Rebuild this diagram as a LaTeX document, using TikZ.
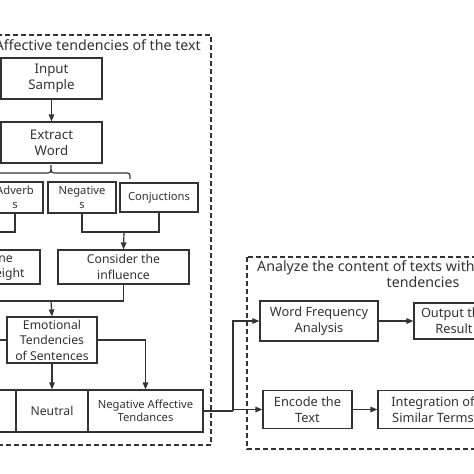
\documentclass[tikz,border=0pt]{standalone}
\usepackage{fontspec}
\setmainfont{Noto Sans}
\usetikzlibrary{arrows.meta}
\definecolor{ink}{HTML}{333333}
\tikzset{
  box/.style={draw=ink, line width=1.2pt, text=ink, align=center, inner sep=0pt,
    font=\fontsize{12.2}{15.5}\selectfont},
  bigbox/.style={box, font=\fontsize{13.3}{16}\selectfont},
  smallbox/.style={box, font=\fontsize{11.2}{13.5}\selectfont},
  rbox/.style={box, font=\fontsize{12.8}{16}\selectfont},
  conn/.style={draw=ink, line width=1.2pt},
  arr/.style={conn, -{Triangle[length=7pt,width=5.5pt]}},
  frame/.style={draw=ink, line width=1.1pt, dash pattern=on 5pt off 3pt},
  ttl/.style={text=ink, inner sep=0pt, font=\fontsize{14.2}{16}\selectfont}
}
\begin{document}
\begin{tikzpicture}[x=1pt,y=-1pt]
\useasboundingbox (0,0) rectangle (474,474);
\clip (0,0) rectangle (474,474);
\fill[white] (0,0) rectangle (474,474);
% frames
\draw[frame] (-8,35) rectangle (211,445);
\draw[frame] (247,257) rectangle (490,449);
\node[ttl, anchor=base east] (t1) at (201,50) {Affective tendencies of the text};
\node[ttl, anchor=base west] (t2a) at (257,271) {Analyze the content of texts with};
\node[ttl, anchor=base] (t2b) at (423,287) {tendencies};
% left boxes
\node[bigbox, minimum width=101pt, minimum height=41pt] (inp) at (51.5,78.5) {Input\\Sample};
\node[bigbox, minimum width=101pt, minimum height=41pt] (ext) at (51.5,142.5) {Extract\\Word};
\node[smallbox, minimum width=56pt, minimum height=31pt] (adv) at (15,197.5) {Adverb\\s};
\node[smallbox, minimum width=68pt, minimum height=31pt] (neg) at (82,197.5) {Negative\\s};
\node[smallbox, minimum width=78pt, minimum height=29pt] (conj) at (159,197.5) {Conjuctions};
\node[box, minimum width=92pt, minimum height=34pt] (wgt) at (-6,267) {Define\\the weight};
\node[box, minimum width=131pt, minimum height=34pt] (cons) at (123.5,267) {Consider the\\influence};
\node[box, minimum width=90pt, minimum height=46pt] (emo) at (52,340) {Emotional\\Tendencies\\of Sentences};
\node[box, minimum width=76pt, minimum height=42pt] (pos) at (-22,411) {Positive};
\node[box, minimum width=72pt, minimum height=42pt] (neu) at (52,411) {Neutral};
\node[smallbox, minimum width=115pt, minimum height=42pt] (nega) at (145.5,411) {Negative Affective\\Tendances};
% right boxes
\node[rbox, minimum width=118pt, minimum height=40pt] (wf) at (319,321) {Word Frequency\\Analysis};
\node[rbox, minimum width=80pt, minimum height=36pt] (out) at (454,321) {Output the\\Result};
\node[rbox, minimum width=89pt, minimum height=38pt] (enc) at (307.5,409.5) {Encode the\\Text};
\node[rbox, minimum width=110pt, minimum height=38pt] (intg) at (433,409.5) {Integration of\\Similar Terms};
% brace under Extract Word
\draw[conn] (130,179) .. controls (130,173) .. (124,173) -- (57,173)
  .. controls (51,173) .. (51,165) .. controls (51,173) .. (45,173) -- (-22,173)
  .. controls (-28,173) .. (-28,179);
% connectors
\draw[arr] (inp) -- (ext);
\coordinate (advend) at (-8,232);
\draw[conn] (adv.south) |- (advend);
\coordinate (nc) at (124,232);
\draw[conn] (neg.south) |- (nc) -| (conj.south);
\draw[arr] (nc) -- (cons.north);
\coordinate (je) at (51,301);
\draw[conn] (wgt.south) |- (je);
\draw[conn] (cons.south) |- (je);
\draw[arr] (je) -- (emo.north);
\coordinate (emol) at (-8,340);
\draw[conn] (emo.west) -- (emol);
\draw[arr] (emo.east) -| (nega.north);
\draw[arr] (emo.south) -- (neu.north);
\coordinate (jr) at (233,411);
\draw[conn] (nega.east) -- (jr);
\draw[arr] (jr) |- (wf.west);
\draw[arr] (jr |- enc.west) -- (enc.west);
\draw[arr] (wf.east) -- (wf.east -| out.west);
\draw[arr] (enc.east) -- (enc.east -| intg.west);
\end{tikzpicture}
\end{document}
